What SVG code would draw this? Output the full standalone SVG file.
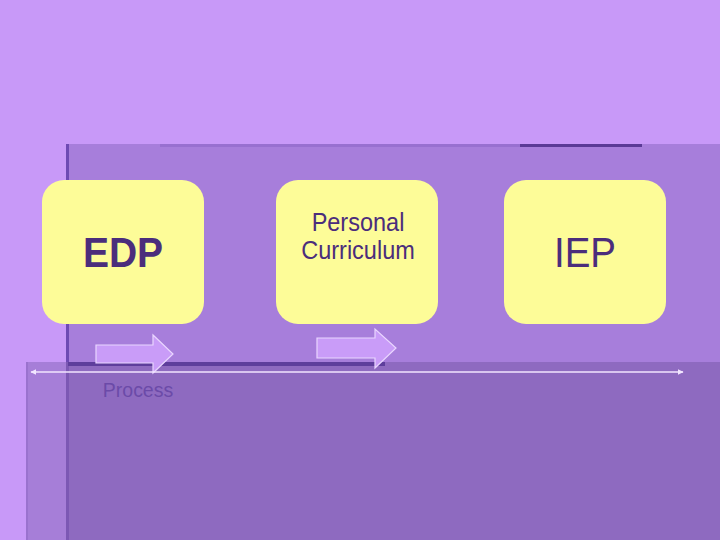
<svg xmlns="http://www.w3.org/2000/svg" width="720" height="540" viewBox="0 0 720 540">
<defs>
<style>
.box{fill:#FDFC98;}
.lbl{font-family:"Liberation Sans",Arial,sans-serif;fill:#4B2D7C;text-anchor:middle;}
.blk{fill:#C99CF8;stroke:#EAD6FF;stroke-width:1.2;}
</style>
<marker id="ah" viewBox="0 0 10 10" refX="9" refY="5" markerWidth="4" markerHeight="4" orient="auto-start-reverse">
<path d="M0,0 L10,5 L0,10 z" fill="#F2E6FF"/>
</marker>
</defs>
<rect width="720" height="540" fill="#C899F8"/>
<g id="panels">
<rect x="66" y="144" width="654" height="396" fill="#A77EDB"/>
<rect x="66" y="144" width="3" height="396" fill="#6E4AB4"/>
<rect x="160" y="144" width="360" height="3" fill="#9870D0"/>
<rect x="520" y="144" width="122" height="3" fill="#5A3A96"/>
<rect x="26" y="362" width="694" height="178" fill="#8E6AC0"/>
<rect x="26" y="362" width="40" height="178" fill="#A67ED8"/>
<rect x="26" y="362" width="2" height="178" fill="#9A72CE"/>
<rect x="66" y="362" width="3" height="178" fill="#7C58B4"/>
<rect x="68" y="362" width="317" height="4" fill="#5E3E9C"/>
</g>
<g id="node-edp">
<rect class="box" x="42" y="180" width="162" height="144" rx="22"/>
<text class="lbl" transform="translate(123,267) scale(1,1.08)" font-size="39" font-weight="bold">EDP</text>
</g>
<g id="node-pc">
<rect class="box" x="276" y="180" width="162" height="144" rx="22"/>
<text class="lbl" transform="translate(358,231) scale(1,1.07)" font-size="23.5">Personal</text>
<text class="lbl" transform="translate(358,259) scale(1,1.07)" font-size="23.5">Curriculum</text>
</g>
<g id="node-iep">
<rect class="box" x="504" y="180" width="162" height="144" rx="22"/>
<text class="lbl" transform="translate(585,267) scale(1,1.1)" font-size="38.5">IEP</text>
</g>
<g id="connectors">
<path class="blk" d="M96,345 L153,345 L153,335 L173,354 L153,373 L153,363 L96,363 Z"/>
<path class="blk" d="M317,338 L375,338 L375,329 L396,348 L375,368 L375,358 L317,358 Z"/>
<line x1="31" y1="372" x2="683" y2="372" stroke="#F2E6FF" stroke-width="1.5" marker-start="url(#ah)" marker-end="url(#ah)"/>
</g>
<text id="process" class="lbl" transform="translate(138,397) scale(1,1.05)" font-size="19.5" style="fill:#6B4AA8">Process</text>
</svg>
